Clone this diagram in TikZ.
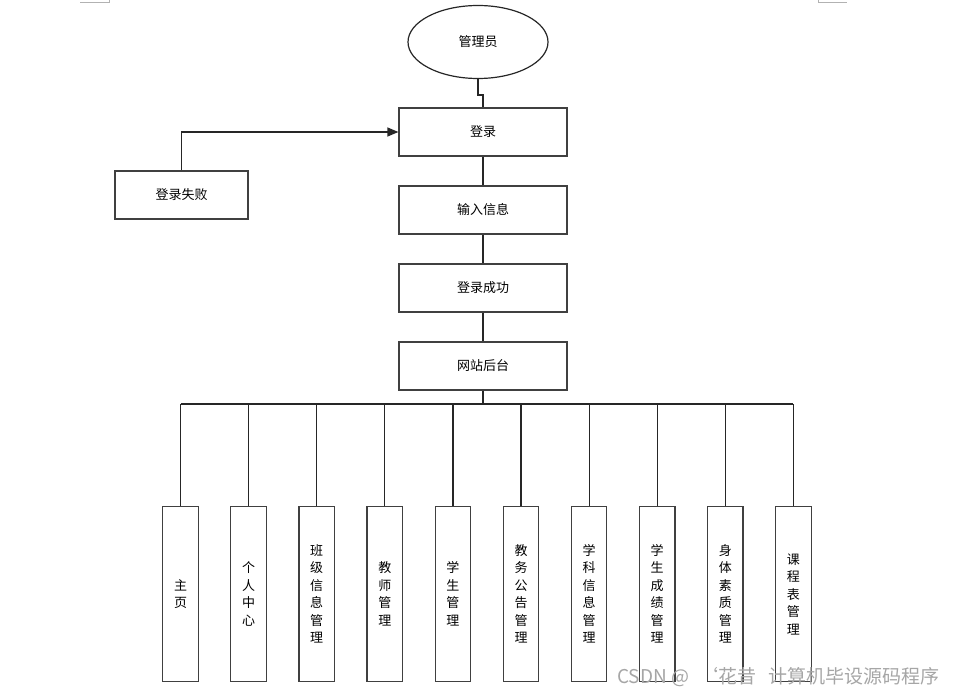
\documentclass[tikz,border=0pt]{standalone}
\usepackage{fontspec}
\setmainfont{Noto Sans CJK SC}
\usetikzlibrary{positioning, shapes.geometric, arrows.meta}

\tikzset{
    flowbox/.style={draw=black!75, line width=1.2pt, fill=white, minimum width=168pt, minimum height=48pt, font=\fontsize{13pt}{17pt}\selectfont},
    menubox/.style={draw=black!75, line width=1.2pt, fill=white, minimum width=35.5pt, minimum height=175pt, align=center, inner sep=0pt, font=\fontsize{13pt}{17.5pt}\selectfont},
    link/.style={draw=black!85, line width=1.2pt},
    corner/.style={draw=black!30, line width=1pt}
}

\begin{document}
\begin{tikzpicture}[x=1pt, y=-1pt]
    \useasboundingbox (0,0) rectangle (957,695);

    % page corner marks
    \draw[corner] (80,3) -- (109,3) -- (109,0);
    \draw[corner] (818,0) -- (818,3) -- (847,3);

    % top of the flow
    \node[ellipse, draw=black!85, line width=1.2pt, minimum width=140pt, minimum height=73pt, font=\fontsize{13pt}{17pt}\selectfont] (admin) at (478,42) {管理员};
    \node[flowbox] (login) at (483,132) {登录};
    \node[flowbox] (input) at (483,210) {输入信息};
    \node[flowbox] (success) at (483,288) {登录成功};
    \node[flowbox] (backend) at (483,366) {网站后台};
    \node[flowbox, minimum width=133pt] (fail) at (181.5,195) {登录失败};

    % connectors
    \draw[link] (admin.south) -- ++(0,16) -| (login.north);
    \draw[link] (login) -- (input);
    \draw[link] (input) -- (success);
    \draw[link] (success) -- (backend);
    \draw[link, -{Triangle[length=11pt, width=9pt]}] (fail.north) |- (login.west);

    % modules
    \coordinate (bus) at (483,404);
    \foreach \name [count=\i] in {{主\\页}, {个\\人\\中\\心}, {班\\级\\信\\息\\管\\理}, {教\\师\\管\\理}, {学\\生\\管\\理},
                                 {教\\务\\公\\告\\管\\理}, {学\\科\\信\\息\\管\\理}, {学\\生\\成\\绩\\管\\理}, {身\\体\\素\\质\\管\\理}, {课\\程\\表\\管\\理}}
    {
        \node[menubox] (m\i) at ({180.5+68.1*(\i-1)},594) {\name};
        \draw[link] (m\i.north) -- (m\i.north |- bus);
    }
    \draw[link] (m1.north |- bus) -- (m10.north |- bus);
    \draw[link, line width=2pt] (backend.south) -- (bus);

    % watermark
    \node[text=black!35, font=\fontsize{19pt}{21pt}\selectfont, anchor=west, inner sep=0pt] (mark) at (617,677) {CSDN @\hspace{10pt}‘花昔\hspace{12pt}计算机毕设源码程序};
\end{tikzpicture}
\end{document}
